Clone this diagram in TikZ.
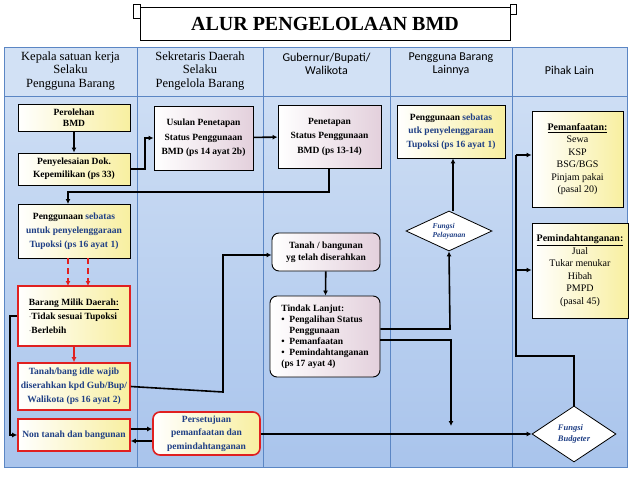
\documentclass[tikz,border=0pt]{standalone}
\usepackage{fontspec}
\setmainfont{Liberation Serif}
\newfontfamily\hsans{Carlito}
\usetikzlibrary{shapes.geometric,arrows.meta}
\definecolor{blu}{HTML}{1F3F85}
\definecolor{lane}{HTML}{A9C4EC}
\definecolor{laneT}{HTML}{D2E1F5}
\definecolor{laneE}{HTML}{5B86C4}
\definecolor{yel}{HTML}{F8EFA0}
\definecolor{pnk}{HTML}{E3D0DC}
\definecolor{rd}{HTML}{E02020}
\begin{document}
\begin{tikzpicture}[x=1pt,y=-1pt,
 box/.style={draw=black,line width=0.9pt,align=center,font=\bfseries\fontsize{9.5}{13}\selectfont,inner sep=1pt},
 ybox/.style={box,left color=white,right color=yel},
 pbox/.style={box,left color=white,right color=pnk},
 rbox/.style={ybox,draw=rd,line width=1.6pt},
 rnd/.style={rounded corners=7pt},
 dia/.style={diamond,draw=black,fill=white,line width=0.8pt,aspect=2,inner sep=0pt,font=\bfseries\itshape\fontsize{7.5}{9}\selectfont,text=blu,align=left},
 arr/.style={line width=1.6pt,-{Latex[length=5pt,width=5pt]}},
 ln/.style={line width=1.6pt},
 rarr/.style={draw=rd,line width=1.4pt,-{Latex[length=5pt,width=5pt]}},
 hd/.style={align=center,font=\fontsize{12.5}{13.5}\selectfont}]
\useasboundingbox (0,0) rectangle (638,479);
\fill[white] (0,0) rectangle (638,479);
% lanes
\shade[top color=laneT,bottom color=lane] (4,47) rectangle (627,467);
\fill[laneT] (4,47) rectangle (627,96);
\draw[laneE,line width=0.8pt] (4,47) rectangle (627,467);
\draw[laneE,line width=0.6pt] (4,96) -- (627,96);
\foreach \x in {137,263,390,512} \draw[laneE,line width=0.6pt] (\x,47) -- (\x,467);
\node[hd] (h1) at (70.5,71) {Kepala satuan kerja\\Selaku\\Pengguna Barang};
\node[hd] (h2) at (200,71) {Sekretaris Daerah\\Selaku\\Pengelola Barang};
\node[hd,font=\hsans\fontsize{12}{13}\selectfont] (h3) at (326.5,64) {Gubernur/Bupati/\\Walikota};
\node[hd,font=\hsans\fontsize{12}{13}\selectfont] (h4) at (451,64) {Pengguna Barang\\Lainnya};
\node[hd,font=\hsans\fontsize{12}{13}\selectfont] (h5) at (569.5,70) {Pihak Lain};
% title
\draw[line width=0.9pt,fill=white] (140,7) rectangle (510,40);
\draw[line width=0.8pt,fill=white] (133,4) rectangle (140,18);
\draw[line width=0.8pt,fill=white] (510,4) rectangle (516,14);
\node[font=\bfseries\fontsize{20}{22}\selectfont] (title) at (325,24) {ALUR PENGELOLAAN BMD};
% boxes
\node[ybox,minimum width=112pt,minimum height=27pt,font=\bfseries\fontsize{9.5}{11}\selectfont] (per) at (74,117.5) {Perolehan\\BMD};
\node[ybox,minimum width=112pt,minimum height=32pt] (pen) at (74,169) {Penyelesaian Dok.\\Kepemilikan (ps 33)};
\node[pbox,minimum width=99pt,minimum height=64pt,font=\bfseries\fontsize{9.5}{14.5}\selectfont] (usu) at (203.5,138) {Usulan Penetapan\\Status Penggunaan\\BMD (ps 14 ayat 2b)};
\node[pbox,minimum width=103pt,minimum height=63pt,font=\bfseries\fontsize{9.5}{14.5}\selectfont] (pet) at (329.5,136.5) {Penetapan\\Status Penggunaan\\BMD (ps 13-14)};
\node[ybox,minimum width=108pt,minimum height=53pt,font=\bfseries\fontsize{9.5}{13.5}\selectfont] (pg4) at (451,131.5) {Penggunaan \textcolor{blu}{sebatas}\\\textcolor{blu}{utk penyelenggaraan}\\\textcolor{blu}{Tupoksi (ps 16 ayat 1)}};
\node[ybox,minimum width=91pt,minimum height=96pt,font=\fontsize{10}{12.5}\selectfont] (pmf) at (577.5,159) {\textbf{\underline{Pemanfaatan:}}\\Sewa\\KSP\\BSG/BGS\\Pinjam pakai\\(pasal 20)};
\node[ybox,minimum width=96pt,minimum height=95pt,font=\fontsize{10}{12.5}\selectfont] (pmd) at (580,270.5) {\textbf{\underline{Pemindahtanganan:}}\\Jual\\Tukar menukar\\Hibah\\PMPD\\(pasal 45)};
\node[ybox,minimum width=112pt,minimum height=54pt,font=\bfseries\fontsize{9.5}{14}\selectfont] (pg1) at (74,231) {Penggunaan \textcolor{blu}{sebatas}\\\textcolor{blu}{untuk penyelenggaraan}\\\textcolor{blu}{Tupoksi (ps 16 ayat 1)}};
\node[pbox,rnd,minimum width=108pt,minimum height=38pt,font=\bfseries\fontsize{9.5}{12}\selectfont] (tnh) at (326,252) {Tanah / bangunan\\yg telah diserahkan};
\node[pbox,rnd,minimum width=110pt,minimum height=81pt,align=left,font=\bfseries\fontsize{9.5}{11}\selectfont] (tdk) at (325,336.5) {Tindak Lanjut:\\\textbullet\ \ Pengalihan Status\\\phantom{\textbullet\ \ }Penggunaan\\\textbullet\ \ Pemanfaatan\\\textbullet\ \ Pemindahtanganan\\(ps 17 ayat 4)};
\node[rbox,minimum width=112pt,minimum height=60pt,align=left,font=\bfseries\fontsize{9.5}{14}\selectfont] (bmd) at (74,316) {\underline{Barang Milik Daerah:}\\$\cdot$Tidak sesuai Tupoksi\\$\cdot$Berlebih};
\node[rbox,minimum width=112pt,minimum height=47pt,text=blu,font=\bfseries\fontsize{9.5}{14}\selectfont] (idl) at (74,386.5) {Tanah/bang idle wajib\\diserahkan kpd Gub/Bup/\\Walikota (ps 16 ayat 2)};
\node[rbox,minimum width=112pt,minimum height=32pt,text=blu] (non) at (74,435) {Non tanah dan bangunan};
\node[rbox,rnd,minimum width=107pt,minimum height=43pt,text=blu,font=\bfseries\fontsize{9.5}{13.5}\selectfont] (prs) at (206.5,433.5) {Persetujuan\\pemanfaatan dan\\pemindahtanganan};
\node[dia,minimum width=86pt,minimum height=40pt] (fpl) at (449,231) {Fungsi\\Pelayanan};
\node[dia,minimum width=84pt,minimum height=56pt,font=\bfseries\itshape\fontsize{8.5}{11}\selectfont] (fbd) at (574,434) {Fungsi\\Budgeter};
% connectors
\draw[arr] (per) -- (pen);
\draw[arr] (pen.east) -- (145,169) -- (145,138) -- (usu.west);
\draw[arr] (usu) -- (pet);
\draw[arr] (329,168) -- (329,192) -- (68,192) -- (68,204);
\draw[rarr,dashed,dash pattern=on 6pt off 4pt] (68,258) -- (68,286);
\draw[rarr,dashed,dash pattern=on 6pt off 4pt] (88,258) -- (88,286);
\draw[rarr] (bmd) -- (idl);
\draw[arr] (bmd.west) -- (10,316) -- (10,435) -- (non.west);
\draw[arr] (idl.east) -- (223,392) -- (223,255) -- (tnh.west |- 0,255);
\draw[arr] (tnh) -- (tdk);
\draw[arr] (non.east |- 0,429) -- (prs.west |- 0,429);
\draw[arr] (prs.west |- 0,441) -- (non.east |- 0,441);
\draw[arr] (prs.east |- 0,434) -- (fbd.west);
\draw[arr] (tdk.east |- 0,329) -- (450,329) -- (fpl.south);
\draw[arr] (tdk.east |- 0,340) -- (451,340) -- (451,426);
\draw[arr] (fpl.north -| 453,0) -- (pg4.south -| 453,0);
\draw[ln] (fbd.north) -- (574,356) -- (516,356) -- (516,155);
\draw[arr] (516,155) -- (pmf.west |- 0,155);
\draw[arr] (516,270) -- (pmd.west |- 0,270);
\end{tikzpicture}
\end{document}
